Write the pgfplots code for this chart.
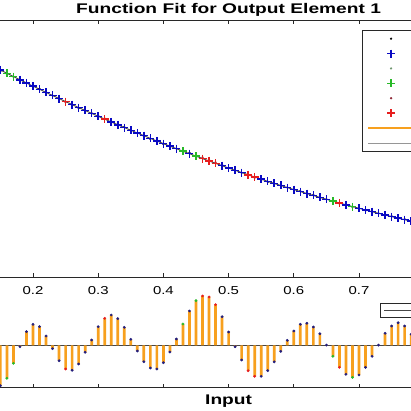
\documentclass[border=0pt]{standalone}
\usepackage{pgfplots}
\usepackage{pgfplotstable}
\pgfplotsset{compat=1.18}
\usepackage{fontspec}
\setmainfont{Liberation Sans}

\definecolor{trainblue}{RGB}{10,10,195}
\definecolor{valgreen}{RGB}{40,185,40}
\definecolor{testred}{RGB}{230,30,30}
\definecolor{errorange}{RGB}{247,160,30}
\definecolor{fitgray}{RGB}{70,70,70}
\definecolor{legendgray}{RGB}{150,150,150}
\definecolor{framegray}{RGB}{40,40,40}
\definecolor{tipblue}{RGB}{35,30,125}
\definecolor{valdot}{RGB}{110,150,110}
\definecolor{testdot}{RGB}{140,35,50}

% keep only the rows of one data division (0 train, 1 validation, 2 test)
\pgfplotsset{
  division/.style={restrict expr to domain={\thisrow{s}}{#1:#1}},
}

% x: input, out: network output, err: target - output (x 1e-3), s: division
\pgfplotstableread{
x out err s
0.15 0.8074 -4.04 0
0.16 0.7946 -3.30 1
0.17 0.7819 -1.80 1
0.18 0.7694 -0.14 0
0.19 0.7569 1.36 0
0.20 0.7446 2.10 0
0.21 0.7324 1.86 0
0.22 0.7202 0.93 0
0.23 0.7082 -0.34 0
0.24 0.6963 -1.54 0
0.25 0.6845 -2.37 2
0.26 0.6729 -2.50 0
0.27 0.6613 -1.87 0
0.28 0.6499 -0.70 0
0.29 0.6385 0.53 0
0.30 0.6273 1.86 0
0.31 0.6162 2.70 2
0.32 0.6051 3.03 0
0.33 0.5943 2.66 0
0.34 0.5835 1.80 0
0.35 0.5728 0.60 0
0.36 0.5622 -0.57 0
0.37 0.5518 -1.64 0
0.38 0.5414 -2.27 0
0.39 0.5312 -2.37 0
0.40 0.5211 -1.74 0
0.41 0.5111 -0.67 0
0.42 0.5012 0.63 0
0.43 0.4914 2.13 1
0.44 0.4817 3.43 0
0.45 0.4722 4.46 1
0.46 0.4627 4.93 2
0.47 0.4534 4.83 2
0.48 0.4442 4.06 2
0.49 0.4350 2.86 0
0.50 0.4260 1.33 0
0.51 0.4171 -0.14 0
0.52 0.4084 -1.47 0
0.53 0.3997 -2.54 2
0.54 0.3911 -3.10 2
0.55 0.3827 -3.10 0
0.56 0.3743 -2.54 0
0.57 0.3661 -1.65 0
0.58 0.3580 -0.60 0
0.59 0.3500 0.50 0
0.60 0.3421 1.43 0
0.61 0.3343 2.10 0
0.62 0.3266 2.20 0
0.63 0.3191 1.83 0
0.64 0.3116 1.16 0
0.65 0.3043 0.02 0
0.66 0.2971 -1.10 1
0.67 0.2899 -2.20 2
0.68 0.2829 -2.90 0
0.69 0.2760 -3.20 1
0.70 0.2693 -2.97 0
0.71 0.2626 -2.20 0
0.72 0.2560 -1.10 0
0.73 0.2496 0.02 0
0.74 0.2432 1.20 0
0.75 0.2370 1.93 0
0.76 0.2309 2.26 0
0.77 0.2249 1.93 0
0.78 0.2190 1.10 0
}\fitdata

\begin{document}
\begin{tikzpicture}
\useasboundingbox (0,0) rectangle (411pt,411pt);
\fill[white] (0,0) rectangle (411pt,411pt);
\clip (0,0) rectangle (411pt,411pt);

% ---------- function fit ----------
\begin{axis}[
  scale only axis, width=521.6pt, height=257pt,
  at={(-32.2pt,133.5pt)}, anchor=south west,
  xmin=0.1, xmax=0.9, ymin=0, ymax=1,
  xtick={0.2,0.3,0.4,0.5,0.6,0.7}, ytick=\empty,
  xticklabel={\scalebox{1.3}[1]{\pgfmathprintnumber[assume math mode=true]{\tick}}},
  xticklabel style={font=\fontsize{11.5}{13}\selectfont, anchor=center, yshift=-13.3pt, inner sep=0pt},
  tick align=inside, major tick length=4pt,
  axis line style={framegray, line width=0.8pt},
  major tick style={framegray, line width=0.8pt},
  legend cell align=left,
  legend style={at={(0.7558,0.963)}, anchor=north west, draw=framegray, fill=white,
    font=\fontsize{10}{12}\selectfont, inner xsep=4.7pt, inner ysep=1pt, row sep=0pt,
    nodes={inner sep=0pt, text height=8pt, text depth=6.9pt}},
  legend image code/.code={\draw[#1, mark repeat=2, mark phase=2] plot coordinates {(0pt,0pt) (23pt,0pt) (46pt,0pt)};},
]
\addplot[only marks, mark=*, mark size=0.9pt, black, division=0]
  table[x=x, y expr=\thisrow{out}+0.001*\thisrow{err}] {\fitdata};
\addlegendentry{Training Targets}
\addplot[only marks, mark=+, mark size=4pt, line width=1.5pt, trainblue, division=0]
  table[x=x, y=out] {\fitdata};
\addlegendentry{Training Outputs}
\addplot[only marks, mark=*, mark size=0.9pt, valdot, division=1]
  table[x=x, y expr=\thisrow{out}+0.001*\thisrow{err}] {\fitdata};
\addlegendentry{Validation Targets}
\addplot[only marks, mark=+, mark size=4pt, line width=1.5pt, valgreen, division=1]
  table[x=x, y=out] {\fitdata};
\addlegendentry{Validation Outputs}
\addplot[only marks, mark=*, mark size=0.9pt, testdot, division=2]
  table[x=x, y expr=\thisrow{out}+0.001*\thisrow{err}] {\fitdata};
\addlegendentry{Test Targets}
\addplot[only marks, mark=+, mark size=4pt, line width=1.5pt, testred, division=2]
  table[x=x, y=out] {\fitdata};
\addlegendentry{Test Outputs}
\addlegendimage{errorange, line width=2.3pt}
\addlegendentry{Errors}
\addplot[fitgray, line width=0.9pt, no marks, legend image post style={legendgray}]
  table[x=x, y=out] {\fitdata};
\addlegendentry{Fit}
\end{axis}

% ---------- errors ----------
\begin{axis}[
  scale only axis, width=521.6pt, height=94.4pt,
  at={(-32.2pt,23.3pt)}, anchor=south west,
  xmin=0.1, xmax=0.9, ymin=-4.24, ymax=5.2,
  axis x line*=bottom, axis y line*=left,
  xtick={0.2,0.3,0.4,0.5,0.6,0.7}, xticklabels={}, ytick=\empty,
  xtick align=inside, major tick length=4pt,
  axis line style={framegray, line width=0.9pt},
  major tick style={framegray, line width=0.8pt},
  legend cell align=left,
  legend style={at={(0.790,0.897)}, anchor=north west, draw=framegray, fill=white,
    font=\fontsize{10}{12}\selectfont, inner xsep=4pt, inner ysep=1pt,
    nodes={inner sep=0pt, text height=8pt, text depth=4pt}},
  legend image code/.code={\draw[#1] (24pt,0pt) -- (52pt,0pt);},
]
\addplot[fitgray, line width=0.8pt] coordinates {(0.1,0) (0.9,0)};
\addlegendentry{Zero Error}
\addplot[ybar, bar width=2.7pt, bar shift=0pt, fill=errorange, draw=none, forget plot]
  table[x=x, y=err] {\fitdata};
\addplot[only marks, mark=*, mark size=1.2pt, tipblue, forget plot, division=0]
  table[x=x, y=err] {\fitdata};
\addplot[only marks, mark=*, mark size=1.2pt, valgreen, forget plot, division=1]
  table[x=x, y=err] {\fitdata};
\addplot[only marks, mark=*, mark size=1.2pt, testred, forget plot, division=2]
  table[x=x, y=err] {\fitdata};
\end{axis}

% figure title and input label
\node[anchor=base, font=\bfseries\fontsize{14}{16}\selectfont, inner sep=0pt]
  at (228.6pt,397pt) {\scalebox{1.37}[1]{Function Fit for Output Element 1}};
\node[anchor=base, font=\bfseries\fontsize{14}{16}\selectfont, inner sep=0pt]
  at (228.6pt,6pt) {\scalebox{1.37}[1]{Input}};
\end{tikzpicture}
\end{document}
